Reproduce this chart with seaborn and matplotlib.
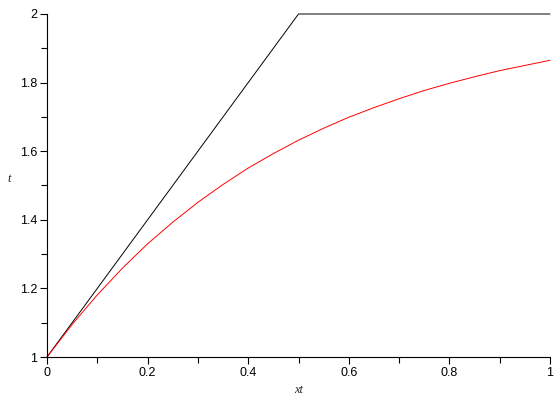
import matplotlib
matplotlib.use("Agg")
import matplotlib.pyplot as plt
import seaborn as sns
import pandas as pd
from matplotlib.ticker import MultipleLocator

sns.set_theme(style="ticks")
plt.rcParams['font.family'] = ['Liberation Sans', 'DejaVu Sans']

# data
black_x = [0.0, 0.5, 1.0]
black_y = [1.0, 2.0, 2.0]
red_x = [0.0, 0.05, 0.1, 0.15, 0.2, 0.25, 0.3, 0.35, 0.4, 0.45, 0.5,
         0.55, 0.6, 0.65, 0.7, 0.75, 0.8, 0.85, 0.9, 0.95, 1.0]
red_y = [1.000, 1.095, 1.181, 1.259, 1.330, 1.393, 1.451, 1.503, 1.551, 1.593, 1.632,
         1.667, 1.699, 1.727, 1.753, 1.777, 1.798, 1.817, 1.835, 1.850, 1.865]
x_ticks = [0, 0.2, 0.4, 0.6, 0.8, 1]
x_tick_labels = ["0", "0.2", "0.4", "0.6", "0.8", "1"]
y_ticks = [1, 1.2, 1.4, 1.6, 1.8, 2]
y_tick_labels = ["1", "1.2", "1.4", "1.6", "1.8", "2"]

fig = plt.figure(figsize=(5.6, 4.0), dpi=100)
ax = fig.add_axes([47/560, 43/400, 503/560, 343/400])

sns.lineplot(x=black_x, y=black_y, ax=ax, color="black", linewidth=0.7,
             estimator=None, sort=False)
sns.lineplot(x=red_x, y=red_y, ax=ax, color="red", linewidth=0.7,
             estimator=None, sort=False)

ax.set_xlim(0, 1)
ax.set_ylim(1, 2)
ax.set_xticks(x_ticks)
ax.set_xticklabels(x_tick_labels)
ax.set_yticks(y_ticks)
ax.set_yticklabels(y_tick_labels)
ax.xaxis.set_minor_locator(MultipleLocator(0.1))
ax.yaxis.set_minor_locator(MultipleLocator(0.1))
ax.tick_params(which="both", direction="out", length=5, width=0.8, colors="black",
               labelsize=9, pad=2)
ax.tick_params(which="minor", length=4)

for s in ["top", "right"]:
    ax.spines[s].set_visible(False)
for s in ["left", "bottom"]:
    ax.spines[s].set_linewidth(0.8)
    ax.spines[s].set_color("black")
for line in ax.lines:
    line.set_clip_on(False)

ax.set_xlabel("xt", fontsize=9, fontstyle="italic", family=["Liberation Serif"])
ax.set_ylabel("t", fontsize=9, fontstyle="italic", family=["Liberation Serif"],
              rotation=0)
ax.xaxis.set_label_coords(0.5, -0.08)
ax.yaxis.set_label_coords(-0.075, 0.5)

fig.savefig("out.png", dpi=100, facecolor="white")
